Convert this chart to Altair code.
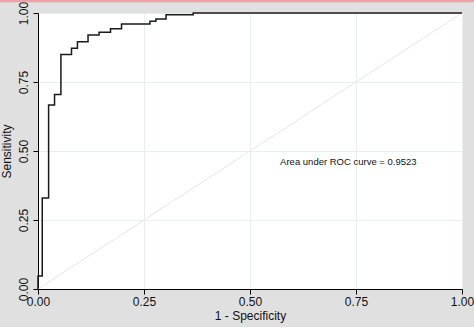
import altair as alt
import pandas as pd

# ROC curve step points (1 - specificity, sensitivity)
fpr = [0.0, 0.0, 0.010, 0.025, 0.039, 0.054, 0.079, 0.093, 0.118, 0.144, 0.171, 0.197, 0.264, 0.278, 0.302, 0.366, 1.0]
tpr = [0.0, 0.047, 0.330, 0.667, 0.705, 0.850, 0.872, 0.896, 0.920, 0.930, 0.943, 0.960, 0.970, 0.978, 0.994, 1.0, 1.0]
ref_x = [0.0, 1.0]
ref_y = [0.0, 1.0]
ticks = [0.0, 0.25, 0.5, 0.75, 1.0]
auc_text = ["Area under ROC curve = 0.9523"]
auc_pos_x = [0.571]
auc_pos_y = [0.46]

roc = pd.DataFrame({"fpr": fpr, "tpr": tpr, "order": list(range(len(fpr)))})
ref = pd.DataFrame({"fpr": ref_x, "tpr": ref_y})
ann = pd.DataFrame({"x": auc_pos_x, "y": auc_pos_y, "t": auc_text})

xscale = alt.Scale(domain=[0, 1], nice=False)
yscale = alt.Scale(domain=[0, 1], nice=False)

xaxis = alt.Axis(values=ticks, format=".2f", title="1 - Specificity",
                 grid=True, gridColor="#e9eeee", gridWidth=1,
                 domainColor="#000000", tickColor="#000000", tickSize=5,
                 labelFont="Liberation Sans", labelFontSize=12, labelColor="#111111",
                 titleFont="Liberation Sans", titleFontSize=12, titleFontWeight="normal",
                 titleColor="#111111", labelPadding=2, titlePadding=3,
                 labelFlush=False)
yaxis = alt.Axis(values=ticks, format=".2f", title="Sensitivity",
                 grid=True, gridColor="#e9eeee", gridWidth=1,
                 domainColor="#000000", tickColor="#000000", tickSize=5,
                 labelFont="Liberation Sans", labelFontSize=12, labelColor="#111111",
                 labelAngle=-90, labelAlign="center", labelBaseline="bottom",
                 titleFont="Liberation Sans", titleFontSize=12, titleFontWeight="normal",
                 titleColor="#111111", labelPadding=3, titlePadding=4,
                 labelFlush=False)

diag = alt.Chart(ref).mark_line(color="#e6e6e6", strokeWidth=1).encode(
    x=alt.X("fpr:Q", scale=xscale, axis=xaxis),
    y=alt.Y("tpr:Q", scale=yscale, axis=yaxis),
)

curve = alt.Chart(roc).mark_line(color="#1a1a1a", strokeWidth=1.5, interpolate="step-after").encode(
    x=alt.X("fpr:Q", scale=xscale),
    y=alt.Y("tpr:Q", scale=yscale),
    order="order:Q",
)

text = alt.Chart(ann).mark_text(align="left", baseline="middle", font="Liberation Sans",
                                fontSize=9.5, color="#111111").encode(
    x=alt.X("x:Q", scale=xscale),
    y=alt.Y("y:Q", scale=yscale),
    text="t:N",
)

strip = alt.Chart(ann).mark_rule(color="#f0a0a8", strokeWidth=2.5).encode(
    x=alt.value(-38), x2=alt.value(436), y=alt.value(-12)
)

chart = alt.layer(diag, curve, text, strip).properties(
    width=424, height=276,
    background="#e0e0e0",
    padding={"left": 38, "top": 13, "right": 12, "bottom": 38},
    autosize=alt.AutoSizeParams(type="none"),
).configure_view(fill="#ffffff", stroke=None)

chart.save("out.html", embed_options={"renderer": "svg", "actions": False})
